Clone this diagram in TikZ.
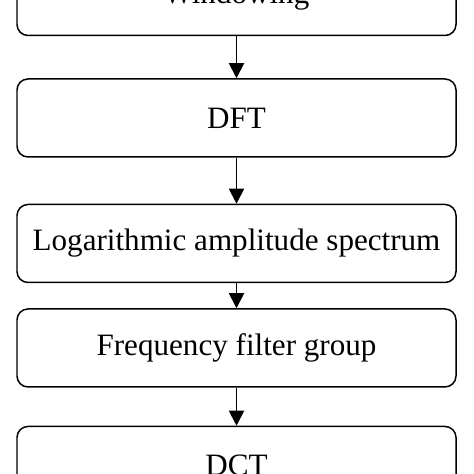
\documentclass[tikz,border=0pt]{standalone}
\usepackage{fontspec}
\setmainfont{Liberation Serif}
\usetikzlibrary{positioning,arrows.meta}
\begin{document}
\begin{tikzpicture}[
                stagebox/.style={draw, line width=0.85pt, rounded corners=0.22cm,
                    minimum width=8.78cm, minimum height=1.56cm, inner sep=0pt,
                    font=\fontsize{17.7}{21}\selectfont},
                flow/.style={-{Triangle[length=0.3cm,width=0.3cm]}, line width=1.1pt},
            ]
            \useasboundingbox (0,0) rectangle (9.48,-9.48);
            \node[stagebox] (win) at (4.73,0.07) {Windowing};
            \node[stagebox, below=0.84cm of win] (dft) {DFT};
            \node[stagebox, below=0.92cm of dft] (logspec) {Logarithmic amplitude spectrum};
            \node[stagebox, below=0.5cm of logspec] (filters) {Frequency filter group};
            \node[stagebox, below=0.76cm of filters] (dct) {DCT};
            \draw[flow] (win) -- (dft);
            \draw[flow] (dft) -- (logspec);
            \draw[flow] (logspec) -- (filters);
            \draw[flow] (filters) -- (dct);
            \end{tikzpicture}
\end{document}
